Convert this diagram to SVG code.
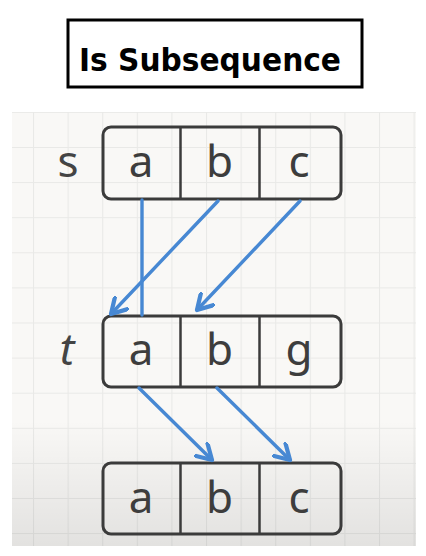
<svg xmlns="http://www.w3.org/2000/svg" width="426" height="556" viewBox="0 0 426 556">
<style>
.cell{fill:none;stroke:#3b3b3b;stroke-width:3;}
.div{stroke:#3b3b3b;stroke-width:2.5;}
.ch{font-family:"Noto Sans","Open Sans",sans-serif;font-size:44px;fill:#3d3d3d;text-anchor:middle;}
.lbl{font-family:"Noto Sans","Open Sans",sans-serif;font-size:44px;fill:#444;text-anchor:middle;}
.arr{stroke:#4788d3;stroke-width:3.4;fill:none;stroke-linecap:round;}
</style>
<defs>
<pattern id="grid" patternUnits="userSpaceOnUse" x="33" y="147" width="34.6" height="35.1">
<rect width="34.6" height="35.1" fill="#f9f8f6"/>
<line x1="0" y1="0" x2="0" y2="35.1" stroke="#e9e9e7" stroke-width="2"/>
<line x1="0" y1="0" x2="34.6" y2="0" stroke="#e9e9e7" stroke-width="2"/>
</pattern>
<linearGradient id="shade" x1="0" y1="0" x2="0" y2="1">
<stop offset="0" stop-color="#000" stop-opacity="0"/>
<stop offset="1" stop-color="#000" stop-opacity="0.09"/>
</linearGradient>
<marker id="ah" markerUnits="userSpaceOnUse" markerWidth="20" markerHeight="20" refX="13" refY="8" orient="auto" viewBox="0 0 16 16">
<path d="M1,1 L13,8 L1,15" fill="none" stroke="#4788d3" stroke-width="3.4" stroke-linecap="round" stroke-linejoin="round"/>
</marker>
</defs>
<rect x="0" y="0" width="426" height="556" fill="#ffffff"/>
<g id="title">
<rect x="68" y="20" width="294" height="67" fill="#fff" stroke="#000" stroke-width="3"/>
<text x="210" y="71" font-family="'Comic Sans MS','DejaVu Sans',sans-serif" font-weight="bold" font-size="32" fill="#000" text-anchor="middle" textLength="262" lengthAdjust="spacingAndGlyphs">Is Subsequence</text>
</g>
<g id="background">
<rect x="12" y="112" width="404" height="434" fill="url(#grid)"/>
<rect x="12" y="420" width="404" height="126" fill="url(#shade)"/>
</g>
<g id="array-s">
<text class="lbl" x="68" y="177">s</text>
<rect class="cell" x="103" y="127" width="238" height="72" rx="8"/>
<line class="div" x1="180.5" y1="127" x2="180.5" y2="199"/>
<line class="div" x1="259.5" y1="127" x2="259.5" y2="199"/>
<text class="ch" x="141" y="177">a</text>
<text class="ch" x="219.5" y="177">b</text>
<text class="ch" x="299" y="177">c</text>
</g>
<g id="array-t">
<text class="lbl" x="67" y="365" font-style="italic">t</text>
<rect class="cell" x="103" y="316" width="238" height="71" rx="8"/>
<line class="div" x1="180.5" y1="316" x2="180.5" y2="387"/>
<line class="div" x1="259.5" y1="316" x2="259.5" y2="387"/>
<text class="ch" x="141" y="365">a</text>
<text class="ch" x="219.5" y="365">b</text>
<text class="ch" x="299" y="365">g</text>
</g>
<g id="array-result">
<rect class="cell" x="103" y="463" width="238" height="71" rx="8"/>
<line class="div" x1="180.5" y1="463" x2="180.5" y2="534"/>
<line class="div" x1="259.5" y1="463" x2="259.5" y2="534"/>
<text class="ch" x="141" y="513">a</text>
<text class="ch" x="219.5" y="513">b</text>
<text class="ch" x="299" y="513">c</text>
</g>
<g id="connectors">
<line class="arr" x1="142" y1="200" x2="142" y2="315"/>
<line class="arr" x1="218" y1="201" x2="111" y2="314" marker-end="url(#ah)"/>
<line class="arr" x1="300" y1="201" x2="197" y2="310" marker-end="url(#ah)"/>
<line class="arr" x1="139" y1="388" x2="212" y2="460" marker-end="url(#ah)"/>
<line class="arr" x1="217" y1="388" x2="290" y2="460" marker-end="url(#ah)"/>
</g>
</svg>
